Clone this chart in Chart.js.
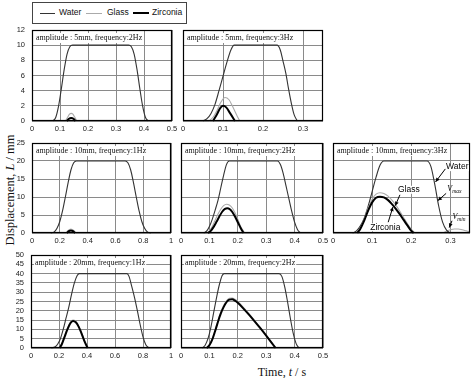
<!DOCTYPE html>
<html><head><meta charset="utf-8">
<script src="https://cdn.jsdelivr.net/npm/chart.js@4.4.0/dist/chart.umd.min.js"></script>
<style>
html,body{margin:0;padding:0;background:#fff;width:474px;height:378px;overflow:hidden;position:relative;}
canvas{position:absolute;}
.lgbox{position:absolute;left:32px;top:2px;width:153px;height:20px;border:1px solid #444;background:#fff;}
.lgl{position:absolute;top:10px;height:0;}
.lgt{position:absolute;top:4px;font:8.5px "Liberation Sans",Arial,sans-serif;color:#111;line-height:11px;}
.ytitle{position:absolute;left:10px;top:190px;transform:translate(-50%,-50%) rotate(-90deg);font:12.5px "Liberation Serif","Times New Roman",serif;white-space:nowrap;color:#111;}
.xtitle{position:absolute;left:282px;top:372px;transform:translate(-50%,-50%);font:12px "Liberation Serif","Times New Roman",serif;white-space:nowrap;color:#111;}
</style></head><body>
<div class="lgbox">
  <div class="lgl" style="left:7px;width:15px;border-top:1.5px solid #333;"></div>
  <div class="lgt" style="left:26px;">Water</div>
  <div class="lgl" style="left:53px;width:16px;border-top:1.2px solid #aaa;"></div>
  <div class="lgt" style="left:74px;">Glass</div>
  <div class="lgl" style="left:100px;width:16px;border-top:2.5px solid #000;top:9px;"></div>
  <div class="lgt" style="left:119px;">Zirconia</div>
</div>
<div class="ytitle">Displacement, <i>L</i> / mm</div>
<div class="xtitle">Time, <i>t</i> / s</div>
<canvas id="cA"></canvas><canvas id="cB"></canvas>
<canvas id="cC"></canvas><canvas id="cD"></canvas><canvas id="cE"></canvas>
<canvas id="cF"></canvas><canvas id="cG"></canvas>
<script>
// ---------- series labels ----------
const seriesNames = ["Water", "Glass", "Zirconia"];
const panelTitles = [
  "amplitude : 5mm, frequency:2Hz",
  "amplitude : 5mm, frequency:3Hz",
  "amplitude : 10mm, frequency:1Hz",
  "amplitude : 10mm, frequency:2Hz",
  "amplitude : 10mm, frequency:3Hz",
  "amplitude : 20mm, frequency:1Hz",
  "amplitude : 20mm, frequency:2Hz"
];

// ---------- Panel A : 5mm, 2Hz ----------
const A_t_water = [0.075,0.085,0.095,0.105,0.115,0.125,0.135,0.145,0.25,0.345,0.355,0.365,0.375,0.385,0.395,0.405,0.415];
const A_water   = [0,0.5,2.0,4.3,6.8,8.8,9.8,10,10,10,9.8,8.8,6.8,4.3,2.0,0.5,0];
const A_t_glass = [0.12,0.128,0.134,0.14,0.146,0.152,0.16];
const A_glass   = [0,0.55,0.9,1.0,0.9,0.55,0];
const A_t_zirc  = [0.125,0.132,0.14,0.148,0.155];
const A_zirc    = [0,0.3,0.4,0.3,0];

// ---------- Panel B : 5mm, 3Hz ----------
const B_t_water = [0.05,0.06,0.07,0.08,0.09,0.10,0.11,0.12,0.128,0.235,0.243,0.25,0.257,0.264,0.271,0.278,0.286];
const B_water   = [0,0.3,1.0,2.2,4.0,5.9,7.8,9.4,10,10,9.4,7.9,6.3,4.2,2.3,0.8,0];
const B_t_glass = [0.065,0.075,0.085,0.095,0.105,0.115,0.125,0.135,0.142];
const B_glass   = [0,0.5,1.4,2.5,3.1,2.8,1.8,0.7,0];
const B_t_zirc  = [0.075,0.085,0.093,0.1,0.108,0.118,0.13];
const B_zirc    = [0,0.9,1.7,2.0,1.8,1.0,0];

// ---------- Panel C : 10mm, 1Hz ----------
const C_t_water = [0.135,0.16,0.18,0.2,0.22,0.24,0.26,0.28,0.30,0.32,0.5,0.67,0.69,0.71,0.73,0.75,0.77,0.79,0.81,0.83,0.855];
const C_water   = [0,0.3,1.3,3.2,6.2,10,14,17.5,19.5,20,20,20,19.5,17.5,14,10,6.2,3.2,1.3,0.3,0];
const C_t_glass = [0.245,0.26,0.28,0.30,0.317];
const C_glass   = [0,0.7,1.1,0.7,0];
const C_t_zirc  = [0.25,0.265,0.28,0.295,0.31];
const C_zirc    = [0,0.5,0.7,0.5,0];

// ---------- Panel D : 10mm, 2Hz ----------
const D_t_water = [0.08,0.09,0.10,0.11,0.12,0.13,0.14,0.15,0.16,0.17,0.25,0.34,0.35,0.36,0.37,0.38,0.39,0.40,0.41,0.42];
const D_water   = [0,0.5,1.8,3.8,6.3,9.0,12.5,16,19,20,20,20,19,16.5,13,9.5,6,3,1,0];
const D_t_glass = [0.09,0.10,0.11,0.12,0.13,0.14,0.15,0.16,0.17,0.18,0.19,0.20,0.21,0.225];
const D_glass   = [0,0.6,1.8,3.5,5.2,6.6,7.6,8.0,7.8,7.0,5.6,3.8,1.8,0];
const D_t_zirc  = [0.095,0.105,0.115,0.125,0.135,0.145,0.155,0.163,0.172,0.18,0.19,0.20,0.21,0.22];
const D_zirc    = [0,0.6,1.7,3.1,4.6,5.9,6.7,6.9,6.6,5.9,4.6,3.0,1.4,0];

// ---------- Panel E : 10mm, 3Hz ----------
const E_t_water = [0.05,0.06,0.07,0.08,0.09,0.10,0.11,0.12,0.13,0.185,0.24,0.25,0.26,0.27,0.28,0.29,0.30];
const E_water   = [0,0.6,2.0,4.2,7.5,11.5,15.5,18.8,20,20,20,18.5,13.5,7.5,3,0.8,0];
const E_t_glass = [0.06,0.07,0.08,0.09,0.10,0.11,0.12,0.13,0.14,0.15,0.16,0.17,0.18,0.19,0.20,0.21];
const E_glass   = [0,1.5,4.0,7.0,9.4,10.8,11.2,11.0,10.3,9.2,7.8,6.2,4.4,2.6,1.0,0];
const E_t_glass2 = [0.28,0.29,0.30,0.31,0.32,0.33,0.34,0.35];
const E_glass2   = [0,0.5,0.9,1.1,1.1,0.9,0.6,0.3];
const E_t_zirc  = [0.062,0.07,0.08,0.09,0.10,0.11,0.12,0.13,0.14,0.15,0.16,0.17,0.18,0.19,0.20,0.206];
const E_zirc    = [0,1.2,3.5,6.3,8.5,9.8,10.1,9.9,9.2,8.1,6.8,5.3,3.7,2.1,0.6,0];

// ---------- Panel F : 20mm, 1Hz ----------
const F_t_water = [0.145,0.17,0.19,0.21,0.23,0.25,0.27,0.29,0.31,0.33,0.345,0.5,0.685,0.70,0.72,0.74,0.76,0.78,0.80,0.82,0.845];
const F_water   = [0,0.5,2,5,10,16,22,29,35,39,40,40,40,38.5,33,27,20,12.5,6,1.8,0];
const F_t_glass = [0.2,0.22,0.24,0.26,0.28,0.30,0.32,0.34,0.36,0.38,0.40,0.41];
const F_glass   = [0,2.4,6.5,10.6,13.8,15,14.3,12,8.5,4.5,1.2,0];
const F_t_zirc  = [0.205,0.22,0.24,0.26,0.28,0.30,0.32,0.34,0.36,0.38,0.395,0.405];
const F_zirc    = [0,2,6,10,13.2,14.5,13.8,11.5,8,4,1.5,0];

// ---------- Panel G : 20mm, 2Hz ----------
const G_t_water = [0.075,0.085,0.095,0.105,0.115,0.125,0.135,0.145,0.152,0.25,0.345,0.355,0.365,0.375,0.385,0.395,0.405,0.415];
const G_water   = [0,1.5,5,11,19,27,34,39,40,40,40,38.5,33,25,16,8,2.5,0];
const G_t_glass = [0.09,0.10,0.11,0.12,0.13,0.14,0.15,0.16,0.17,0.18,0.19,0.20,0.22,0.24,0.26,0.28,0.30,0.32,0.336];
const G_glass   = [0,1.8,5,9.6,14.7,19.2,22.8,25.3,26.7,26.9,26.2,25,21.8,18.3,14.6,10.8,6.8,2.8,0];
const G_t_zirc  = [0.09,0.10,0.11,0.12,0.13,0.14,0.15,0.16,0.17,0.18,0.19,0.20,0.22,0.24,0.26,0.28,0.30,0.32,0.333];
const G_zirc    = [0,1.5,4.5,9,14,18.5,22,24.6,26,26.2,25.5,24.3,21.2,17.8,14.2,10.5,6.6,2.6,0];

// ---------- axis tick settings ----------
const xTicks_half = {min:0, max:0.5, step:0.1};
const xTicks_third = {min:0, max:0.35, step:0.1};
const xTicks_one = {min:0, max:1, step:0.2};
const yTicks_12 = {min:0, max:12, step:2};
const yTicks_25 = {min:0, max:25, step:5};
const yTicks_50 = {min:0, max:50, step:5};

// ---------- styling / layout ----------
const L = 30, T = 8, R = 10, B = 16;
const tickFont = {family:'"Liberation Sans", Arial, sans-serif', size:7.5};
const colWater = '#333', colGlass = '#aaa', colZirc = '#000';
const fmt = v => String(Math.round(v*100)/100);

function pts(t, v){ return t.map((x,i)=>({x:x, y:v[i]})); }
function ds(label, data, color, width){
  return {label, data, borderColor:color, borderWidth:width, pointRadius:0, fill:false,
          cubicInterpolationMode:'monotone', clip:2};
}

const framePlugin = {
  id:'frame',
  afterDraw(chart){
    const a = chart.chartArea, ctx = chart.ctx;
    ctx.save();
    ctx.strokeStyle = '#000'; ctx.lineWidth = 1.2;
    ctx.strokeRect(Math.round(a.left)+0.5, Math.round(a.top)+0.5, Math.round(a.right-a.left)-1, Math.round(a.bottom-a.top)-1);
    const title = chart.options.plugins.panelTitle;
    ctx.font = '8px "Liberation Serif", "Times New Roman", serif';
    const w = ctx.measureText(title).width;
    const x = a.left + 4, y = a.top + 8;
    ctx.fillStyle = '#fff';
    ctx.fillRect(x-1, y-5, w+2, 10);
    ctx.fillStyle = '#111'; ctx.textBaseline = 'middle';
    ctx.fillText(title, x, y);
    ctx.restore();
  }
};

// annotation plugin for panel E (positions in data coordinates)
const annText = [
  {txt:'Water', x:0.289, y:18.3, sub:null},
  {txt:'Glass', x:0.166, y:12.0, sub:null},
  {txt:'Zirconia', x:0.095, y:1.6, sub:null},
  {txt:'V', x:0.292, y:12.2, sub:'max'},
  {txt:'V', x:0.305, y:4.4, sub:'min'}
];
const annArrows = [
  {from:[0.287,17.8], to:[0.262,14.2]},
  {from:[0.171,10.6], to:[0.159,7.6]},
  {from:[0.141,3.0], to:[0.153,7.2]},
  {from:[0.289,11.0], to:[0.268,9.0]},
  {from:[0.304,3.4], to:[0.297,1.5]}
];
const annotPlugin = {
  id:'annot',
  afterDraw(chart){
    const ctx = chart.ctx, sx = chart.scales.x, sy = chart.scales.y;
    ctx.save();
    ctx.fillStyle = '#000'; ctx.textBaseline = 'middle';
    annText.forEach(a=>{
      const px = sx.getPixelForValue(a.x), py = sy.getPixelForValue(a.y);
      if (a.sub){
        ctx.font = 'italic 8px "Liberation Serif", serif';
        ctx.fillText(a.txt, px, py);
        const w = ctx.measureText(a.txt).width;
        ctx.font = 'italic 5.5px "Liberation Serif", serif';
        ctx.fillText(a.sub, px + w, py + 2.5);
      } else {
        ctx.font = '8.5px "Liberation Sans", Arial, sans-serif';
        ctx.fillStyle='#fff';
        const w = ctx.measureText(a.txt).width;
        ctx.fillRect(px-0.5, py-4, w+1, 8);
        ctx.fillStyle='#000';
        ctx.fillText(a.txt, px, py);
      }
    });
    ctx.strokeStyle = '#000'; ctx.lineWidth = 1;
    annArrows.forEach(a=>{
      const x1 = sx.getPixelForValue(a.from[0]), y1 = sy.getPixelForValue(a.from[1]);
      const x2 = sx.getPixelForValue(a.to[0]), y2 = sy.getPixelForValue(a.to[1]);
      ctx.beginPath(); ctx.moveTo(x1,y1); ctx.lineTo(x2,y2); ctx.stroke();
      const ang = Math.atan2(y2-y1, x2-x1), hl = 4.5, hw = 0.45;
      ctx.beginPath();
      ctx.moveTo(x2,y2);
      ctx.lineTo(x2 - hl*Math.cos(ang-hw), y2 - hl*Math.sin(ang-hw));
      ctx.lineTo(x2 - hl*Math.cos(ang+hw), y2 - hl*Math.sin(ang+hw));
      ctx.closePath(); ctx.fill();
    });
    ctx.restore();
  }
};

function makePanel(id, rect, xt, yt, datasets, title, showY, extra){
  const cv = document.getElementById(id);
  const w = rect.right - rect.left + L + R, h = rect.bottom - rect.top + T + B;
  cv.width = w; cv.height = h;
  cv.style.left = (rect.left - L) + 'px'; cv.style.top = (rect.top - T) + 'px';
  cv.style.width = w + 'px'; cv.style.height = h + 'px';
  const plugins = [framePlugin];
  if (extra) plugins.push(extra);
  new Chart(cv, {
    type:'line',
    data:{datasets},
    plugins,
    options:{
      responsive:false, animation:false, devicePixelRatio:1,
      layout:{padding:{left:0, right:R, top:T, bottom:0}},
      plugins:{legend:{display:false}, tooltip:{enabled:false}, panelTitle:title},
      scales:{
        x:{type:'linear', min:xt.min, max:xt.max,
           ticks:{stepSize:xt.step, includeBounds:false, font:tickFont, color:'#222', padding:3, maxRotation:0, autoSkip:false, callback:fmt},
           grid:{color:'#8a8a8a', lineWidth:1, drawTicks:false},
           border:{display:false},
           afterFit(s){ s.height = B; s.paddingLeft = 0; s.paddingRight = 0; }},
        y:{type:'linear', min:yt.min, max:yt.max,
           ticks:{stepSize:yt.step, display:showY, font:tickFont, color:'#222', padding:7, autoSkip:false, callback:fmt},
           grid:{color:'#8a8a8a', lineWidth:1, drawTicks:false},
           border:{display:false},
           afterFit(s){ s.width = L; s.paddingTop = 0; s.paddingBottom = 0; }}
      }
    }
  });
}

function trio(tw,w,tg,g,tz,z){
  return [ds(seriesNames[2], pts(tz,z), colZirc, 2),
          ds(seriesNames[1], pts(tg,g), colGlass, 1.1),
          ds(seriesNames[0], pts(tw,w), colWater, 1.1)];
}

makePanel('cA', {left:32,top:30,right:172,bottom:121}, xTicks_half, yTicks_12,
  trio(A_t_water,A_water,A_t_glass,A_glass,A_t_zirc,A_zirc), panelTitles[0], true);
makePanel('cB', {left:183,top:30,right:323,bottom:121}, xTicks_third, yTicks_12,
  trio(B_t_water,B_water,B_t_glass,B_glass,B_t_zirc,B_zirc), panelTitles[1], false);
makePanel('cC', {left:32,top:143,right:171,bottom:233}, xTicks_one, yTicks_25,
  trio(C_t_water,C_water,C_t_glass,C_glass,C_t_zirc,C_zirc), panelTitles[2], true);
makePanel('cD', {left:181,top:143,right:323,bottom:233}, xTicks_half, yTicks_25,
  trio(D_t_water,D_water,D_t_glass,D_glass,D_t_zirc,D_zirc), panelTitles[3], false);
const dsE = trio(E_t_water,E_water,E_t_glass,E_glass,E_t_zirc,E_zirc);
dsE.push(ds(seriesNames[1], pts(E_t_glass2,E_glass2), colGlass, 1.1));
makePanel('cE', {left:333,top:143,right:470,bottom:233}, xTicks_third, yTicks_25,
  dsE, panelTitles[4], false, annotPlugin);
makePanel('cF', {left:31,top:255,right:171,bottom:348}, xTicks_one, yTicks_50,
  trio(F_t_water,F_water,F_t_glass,F_glass,F_t_zirc,F_zirc), panelTitles[5], true);
makePanel('cG', {left:181,top:255,right:323,bottom:348}, xTicks_half, yTicks_50,
  trio(G_t_water,G_water,G_t_glass,G_glass,G_t_zirc,G_zirc), panelTitles[6], false);
</script>
</body></html>
